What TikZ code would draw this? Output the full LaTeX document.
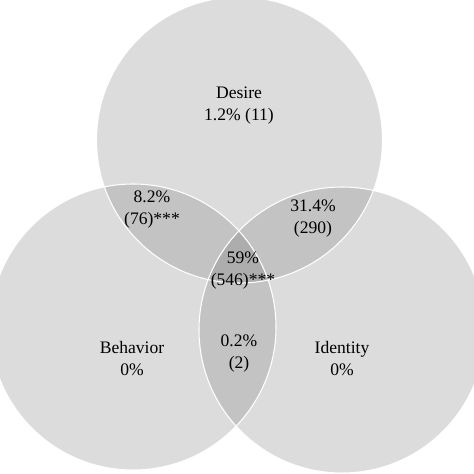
\documentclass[tikz,border=0pt]{standalone}
\usepackage{fontspec}
\setmainfont{Liberation Serif}
\usepackage{tikz}
\usetikzlibrary{positioning, calc}
\usepackage{xcolor}
\definecolor{vennone}{HTML}{DCDCDC}
\definecolor{venntwo}{HTML}{C3C3C3}
\definecolor{vennthree}{HTML}{ADADAD}

\begin{document}
\begin{tikzpicture}[
    every node/.style={font=\fontsize{15}{18.8}\selectfont},
    region/.style={align=center, inner sep=1pt},
    rim/.style={draw=white, line width=0.9pt}
]
    \useasboundingbox (0,0) rectangle (14.22,-14.22);
    \def\rad{4.29}

    % Circle centres
    \coordinate (cD) at (7.185,-4.2);
    \coordinate (cB) at (3.99,-9.81);
    \coordinate (cI) at (10.26,-9.9);

    % Single sets
    \fill[vennone] (cD) circle (\rad);
    \fill[vennone] (cB) circle (\rad);
    \fill[vennone] (cI) circle (\rad);

    % Pairwise overlaps
    \begin{scope}
        \clip (cD) circle (\rad);
        \fill[venntwo] (cB) circle (\rad);
        \fill[venntwo] (cI) circle (\rad);
    \end{scope}
    \begin{scope}
        \clip (cB) circle (\rad);
        \fill[venntwo] (cI) circle (\rad);
    \end{scope}

    % Triple overlap
    \begin{scope}
        \clip (cD) circle (\rad);
        \clip (cB) circle (\rad);
        \fill[vennthree] (cI) circle (\rad);
    \end{scope}

    % Outlines
    \draw[rim] (cD) circle (\rad);
    \draw[rim] (cB) circle (\rad);
    \draw[rim] (cI) circle (\rad);

    % Labels
    \node[region] (desire) at (7.17,-3.18) {Desire\\1.2\% (11)};
    \node[region] (behavior) at (3.96,-10.77) {Behavior\\0\%};
    \node[region] (identity) at (10.26,-10.77) {Identity\\0\%};
    \node[region] (db) at (4.56,-6.3) {8.2\%\\(76)***};
    \node[region] (di) at (9.39,-6.57) {31.4\%\\(290)};
    \node[region] (bi) at (7.17,-10.62) {0.2\%\\(2)};
    \node[region] (dbi) at (7.29,-8.13) {59\%\\(546)***};
\end{tikzpicture}
\end{document}
